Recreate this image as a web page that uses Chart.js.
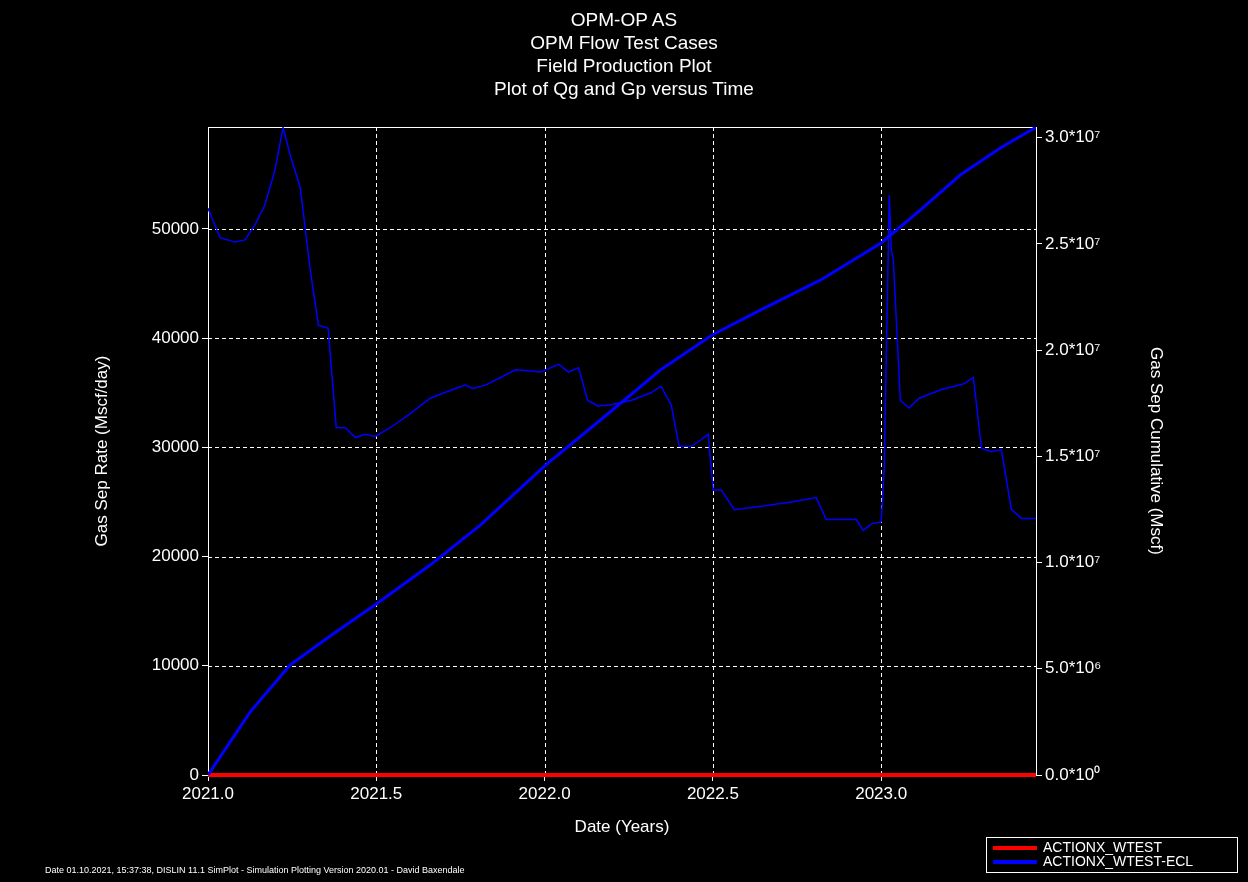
<!DOCTYPE html>
<html>
<head>
<meta charset="utf-8">
<script src="https://cdn.jsdelivr.net/npm/chart.js@4"></script>
<style>
  body { margin: 0; background: #000; font-family: "Liberation Sans", Arial, sans-serif; }
  #wrap { position: relative; width: 1248px; height: 882px; background: #000; }
  #title { position: absolute; left: 0; width: 1248px; top: 8px; text-align: center; color: #fff; font-size: 19px; line-height: 23px; }
  #legend { position: absolute; left: 986px; top: 837px; width: 250px; height: 34px; border: 1px solid #fff; color: #fff; font-size: 14px; }
  #legend div { position: relative; height: 13px; line-height: 13px; padding-left: 56px; margin-top: 3px; }
  #legend span { position: absolute; left: 6px; top: 5px; width: 44px; height: 4px; }
  #footer { position: absolute; left: 45px; top: 865px; color: #fff; font-size: 9px; }
</style>
</head>
<body>
<div id="wrap">
  <canvas id="chart" width="1248" height="882"></canvas>
  <div id="title">OPM-OP AS<br>OPM Flow Test Cases<br>Field Production Plot<br>Plot of Qg and Gp versus Time</div>
  <div id="legend">
    <div><span style="background:#ff0000"></span>ACTIONX_WTEST</div>
    <div style="margin-top:1px"><span style="background:#0000ff"></span>ACTIONX_WTEST-ECL</div>
  </div>
  <div id="footer">Date 01.10.2021, 15:37:38, DISLIN 11.1 SimPlot - Simulation Plotting Version 2020.01 - David Baxendale</div>
</div>
<script>
// Gas sep rate (Mscf/day) versus time (years)
const rateYears = [2021.000, 2021.036, 2021.080, 2021.110, 2021.140, 2021.169, 2021.199, 2021.223, 2021.244, 2021.274,
  2021.304, 2021.328, 2021.357, 2021.381, 2021.408, 2021.438, 2021.467, 2021.497, 2021.541, 2021.601, 2021.660,
  2021.735, 2021.765, 2021.786, 2021.824, 2021.869, 2021.913, 2021.958, 2021.988, 2022.042, 2022.071, 2022.101,
  2022.128, 2022.158, 2022.197, 2022.257, 2022.316, 2022.346, 2022.376, 2022.400, 2022.436, 2022.465, 2022.486,
  2022.501, 2022.525, 2022.564, 2022.644, 2022.733, 2022.807, 2022.837, 2022.866, 2022.926, 2022.947, 2022.971,
  2023.000, 2023.009, 2023.024, 2023.030, 2023.036, 2023.057, 2023.083, 2023.113, 2023.179, 2023.244, 2023.274,
  2023.298, 2023.328, 2023.357, 2023.387, 2023.417, 2023.460];
const rateValues = [51900, 49200, 48800, 49000, 50400, 52200, 55400, 59300, 56800, 53800,
  46200, 41200, 40900, 31800, 31800, 30900, 31200, 31000, 31800, 33100, 34500,
  35400, 35700, 35400, 35700, 36400, 37100, 37000, 36900, 37600, 36900, 37300,
  34300, 33800, 33900, 34300, 35000, 35600, 33900, 30100, 30100, 30700, 31200,
  26100, 26100, 24300, 24600, 25000, 25400, 23400, 23400, 23400, 22400, 23000,
  23200, 27900, 53100, 48100, 47200, 34300, 33600, 34500, 35300, 35800, 36400,
  29900, 29600, 29800, 24300, 23500, 23500];
// Gas sep cumulative (Mscf)
const cumYears = [2021.000, 2021.125, 2021.244, 2021.363, 2021.500, 2021.660, 2021.809, 2022.003, 2022.166,
  2022.344, 2022.498, 2022.641, 2022.819, 2023.000, 2023.116, 2023.235, 2023.354, 2023.460];
const cumValues = [0, 2.96e6, 5.18e6, 6.54e6, 8.05e6, 9.88e6, 11.76e6, 14.59e6, 16.71e6,
  19.06e6, 20.71e6, 21.88e6, 23.29e6, 25.04e6, 26.59e6, 28.24e6, 29.51e6, 30.49e6];
const wtestYears = [2021.0, 2023.46];
const wtestValues = [0, 0];
const xTicks = [2021.0, 2021.5, 2022.0, 2022.5, 2023.0];
const rateTicks = [0, 10000, 20000, 30000, 40000, 50000];
const cumTicks = [0, 5e6, 1e7, 1.5e7, 2e7, 2.5e7, 3e7];
const cumLabels = ['0.0*10⁰', '5.0*10⁶', '1.0*10⁷', '1.5*10⁷', '2.0*10⁷', '2.5*10⁷', '3.0*10⁷'];

function pts(xs, ys) { return xs.map((x, i) => ({ x: x, y: ys[i] })); }

const grid = { drawOnChartArea: false, tickLength: 6, tickColor: '#fff' };
const border = { color: '#ffffff', width: 1 };
const font = { family: '"Liberation Sans", Arial, sans-serif', size: 17 };

new Chart(document.getElementById('chart'), {
  type: 'line',
  data: {
    datasets: [
      { data: pts(rateYears, rateValues), yAxisID: 'y', borderColor: '#0000ff', borderWidth: 1.5, pointRadius: 0, tension: 0 },
      { data: pts(cumYears, cumValues), yAxisID: 'y2', borderColor: '#0000ff', borderWidth: 3, pointRadius: 0, tension: 0 },
      { data: pts(wtestYears, wtestValues), yAxisID: 'y', borderColor: '#ff0000', borderWidth: 4, pointRadius: 0, clip: 4 }
    ]
  },
  options: {
    responsive: false,
    animation: false,
    layout: { padding: { left: 88, right: 78, top: 127, bottom: 40 } },
    plugins: { legend: { display: false }, tooltip: { enabled: false } },
    scales: {
      x: {
        type: 'linear', min: 2021.0, max: 2023.46,
        afterFit: s => { s.height = 67; },
        afterBuildTicks: s => { s.ticks = xTicks.map(v => ({ value: v })); },
        ticks: { color: '#fff', font: font, maxRotation: 0, callback: v => v.toFixed(1) },
        grid: grid,
        border: border,
        title: { display: true, text: 'Date (Years)', color: '#fff', font: font, padding: { top: 6 } }
      },
      y: {
        min: 0, max: 59340, position: 'left',
        afterFit: s => { s.width = 120; },
        afterBuildTicks: s => { s.ticks = rateTicks.map(v => ({ value: v })); },
        ticks: { color: '#fff', font: font, callback: v => String(v) },
        grid: grid,
        border: border,
        title: { display: true, text: 'Gas Sep Rate (Mscf/day)', color: '#fff', font: font }
      },
      y2: {
        min: 0, max: 3.05e7, position: 'right',
        afterFit: s => { s.width = 134; },
        afterBuildTicks: s => { s.ticks = cumTicks.map(v => ({ value: v })); },
        ticks: { color: '#fff', font: font, callback: v => cumLabels[cumTicks.indexOf(v)] },
        grid: grid,
        border: border,
        title: { display: true, text: 'Gas Sep Cumulative (Mscf)', color: '#fff', font: font }
      }
    }
  },
  plugins: [{
    id: 'dashGrid',
    beforeDraw: c => {
      const ctx = c.ctx;
      ctx.save(); ctx.fillStyle = '#000'; ctx.fillRect(0, 0, c.width, c.height); ctx.restore();
    },
    beforeDatasetsDraw: c => {
      const ctx = c.ctx, a = c.chartArea;
      ctx.save();
      ctx.strokeStyle = '#fff'; ctx.lineWidth = 1; ctx.setLineDash([4, 3]);
      ctx.beginPath();
      c.scales.x.ticks.forEach(t => { const px = Math.round(c.scales.x.getPixelForValue(t.value)) + 0.5; if (px > a.left + 2) { ctx.moveTo(px, a.top); ctx.lineTo(px, a.bottom); } });
      c.scales.y.ticks.forEach(t => { const py = Math.round(c.scales.y.getPixelForValue(t.value)) + 0.5; if (py < a.bottom - 2) { ctx.moveTo(a.left, py); ctx.lineTo(a.right, py); } });
      ctx.stroke();
      ctx.setLineDash([]);
      ctx.strokeRect(a.left + 0.5, a.top + 0.5, a.right - a.left, a.bottom - a.top);
      ctx.restore();
    }
  }]
});
</script>
</body>
</html>
